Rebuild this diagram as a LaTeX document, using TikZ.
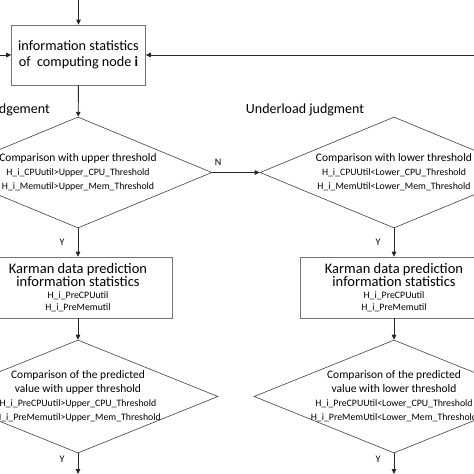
\documentclass[tikz,border=0pt]{standalone}
\usepackage{fontspec}
\setmainfont{Carlito}
\usetikzlibrary{shapes.geometric,arrows.meta}
\newcommand{\smalltxt}{\fontsize{9.8}{11.5}\selectfont}
\tikzset{
        box/.style={draw=black!55, line width=0.6pt, inner sep=0pt, align=center},
        big/.style={font=\fontsize{14.2}{16.5}\selectfont},
        decision/.style={diamond, draw=black!75, line width=0.6pt, inner sep=-14pt, aspect=2.45, align=center, font=\fontsize{11.5}{14}\selectfont},
        arrow/.style={draw=black!85, line width=0.9pt, -{Triangle[length=5pt,width=4.5pt]}},
        lbl/.style={font=\fontsize{10}{12}\selectfont, inner sep=1pt},
        title/.style={font=\fontsize{14}{17}\selectfont, inner sep=0pt}
          }
\begin{document}
\begin{tikzpicture}[x=1pt,y=-1pt]
        \useasboundingbox (0,0) rectangle (474,474);
        \clip (0,0) rectangle (474,474);
        \coordinate (in) at (78.5,0);
        \coordinate (back) at (0,55);
        \coordinate (loop) at (474,55);
        \coordinate (out1) at (78,474);
        \coordinate (out2) at (394,474);
        \node[box, big, minimum width=134pt, minimum height=60pt] (info) at (78.5,55)
          {information statistics\\of~ computing node \textbf{i}};
        \node[title, anchor=east] (ovt) at (50,110) {dgement};
        \node[title] (unt) at (305,110) {Underload judgment};
        \node[decision, minimum width=268pt, minimum height=111pt] (over) at (78,172.5)
          {Comparison with upper threshold\\\smalltxt H\_i\_CPUutil>Upper\_CPU\_Threshold\\\smalltxt H\_i\_Memutil>Upper\_Mem\_Threshold};
        \node[decision, minimum width=268pt, minimum height=111pt] (under) at (394,172.5)
          {Comparison with lower threshold\\\smalltxt H\_i\_CPUUtil<Lower\_CPU\_Threshold\\\smalltxt H\_i\_MemUtil<Lower\_Mem\_Threshold};
        \node[box, minimum width=188pt, minimum height=61pt] (kl) at (78,287.5)
          {{\fontsize{14.5}{18}\selectfont Karman data prediction}\\{\fontsize{14.5}{18}\selectfont information statistics}\\\smalltxt H\_i\_PreCPUutil\\\smalltxt H\_i\_PreMemutil};
        \node[box, minimum width=188pt, minimum height=61pt] (kr) at (394,287.5)
          {{\fontsize{14.5}{18}\selectfont Karman data prediction}\\{\fontsize{14.5}{18}\selectfont information statistics}\\\smalltxt H\_i\_PreCPUutil\\\smalltxt H\_i\_PreMemutil};
        \node[decision, minimum width=280pt, minimum height=113pt] (pover) at (78,396.5)
          {Comparison of the predicted\\value with upper threshold\\\smalltxt H\_i\_PreCPUutil>Upper\_CPU\_Threshold\\\smalltxt H\_i\_PreMemutil>Upper\_Mem\_Threshold};
        \node[decision, minimum width=280pt, minimum height=113pt] (punder) at (394,396.5)
          {Comparison of the predicted\\value with lower threshold\\\smalltxt H\_i\_PreCPUUtil<Lower\_CPU\_Threshold\\\smalltxt H\_i\_PreMemUtil<Lower\_Mem\_Threshold};
        \draw[arrow] (in) -- (info);
        \draw[arrow] (back) -- (info);
        \draw[arrow] (loop) -- (info);
        \draw[arrow] (info) -- (over);
        \draw[arrow] (over) -- node[lbl, pos=0.12, above=6pt] (n1) {N} (under);
        \draw[arrow] (over) -- node[lbl, left=12pt] (y1) {Y} (kl);
        \draw[arrow] (under) -- node[lbl, left=12pt] (y2) {Y} (kr);
        \draw[arrow] (kl) -- (pover);
        \draw[arrow] (kr) -- (punder);
        \draw[arrow] (pover) -- node[lbl, pos=0.3, left=12pt] (y3) {Y} (out1);
        \draw[arrow] (punder) -- node[lbl, pos=0.3, left=12pt] (y4) {Y} (out2);
      \end{tikzpicture}
\end{document}
